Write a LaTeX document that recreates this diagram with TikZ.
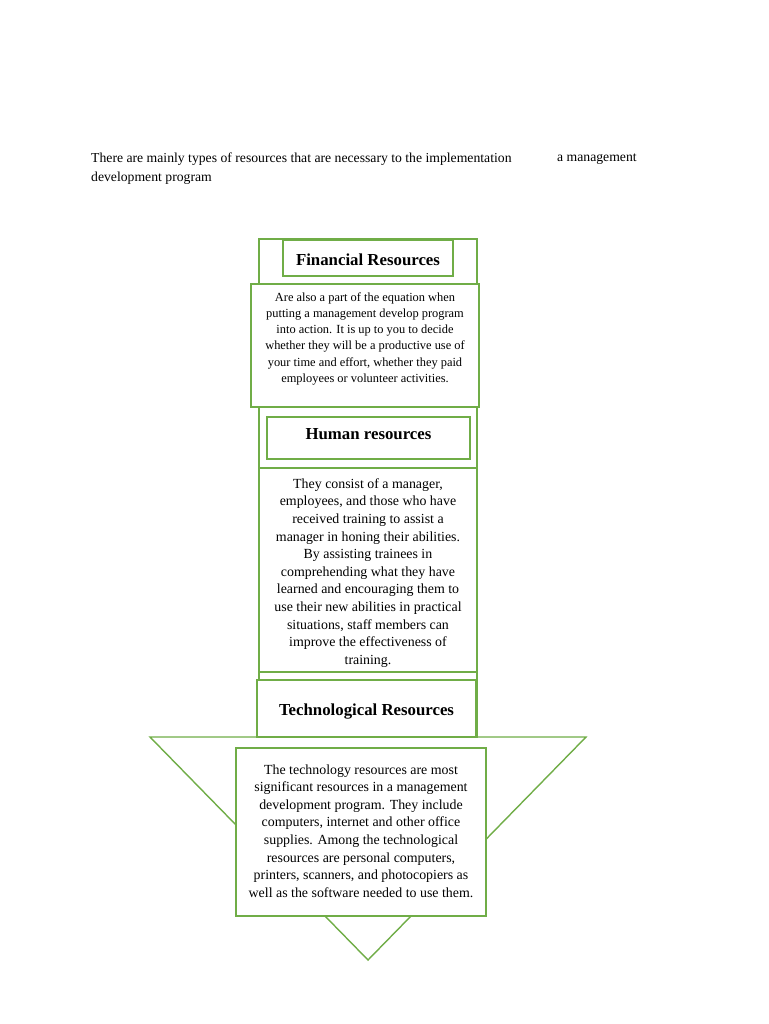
\documentclass[tikz,border=0pt]{standalone}
\usepackage{fontspec}
\setmainfont{Liberation Serif}
\definecolor{grn}{RGB}{112,173,71}
\begin{document}
\begin{tikzpicture}[x=1pt,y=-1pt,
  box/.style={draw=grn,line width=1.4pt,fill=white,inner sep=0pt,align=center},
  ttl/.style={font=\fontsize{16.8}{20}\selectfont\bfseries},
  body/.style={font=\fontsize{13.9}{17.6}\selectfont},
  small/.style={font=\fontsize{12.4}{16.2}\selectfont},
  plain/.style={inner sep=0pt,anchor=west,font=\fontsize{13.7}{19}\selectfont}]
\useasboundingbox (0,0) rectangle (768,1024);
% intro text
\node[plain] (l1) at (91,159) {There are mainly types of resources that are necessary to the implementation};
\node[plain] (l1b) at (557,159) {a management};
\node[plain] (l2) at (91,178) {development program};
% arrow head triangle
\coordinate (tl) at (150,737);
\coordinate (tr) at (586,737);
\coordinate (tip) at (368,960);
\draw[grn,line width=1.4pt,fill=white,line join=miter] (tl) -- (tr) -- (tip) -- cycle;
% column
\draw[grn,line width=1.4pt] (259,239) rectangle (477,737);
\draw[grn,line width=1.4pt] (259,672) -- (477,672);
\node[box,minimum width=219,minimum height=57] (techtitle) at (366.5,708.5) {};
\node[ttl] at ([yshift=-3]techtitle) {Technological Resources};
% financial
\node[box,minimum width=170,minimum height=36] (fintitle) at (368,258) {};
\node[ttl] at ([yshift=-2]fintitle) {Financial Resources};
\node[box,minimum width=228,minimum height=123] (findesc) at (365,345.5) {};
\node[small,align=center,anchor=north] (fintext) at (365,289) {Are also a part of the equation when\\putting a management develop program\\into action. It is up to you to decide\\whether they will be a productive use of\\your time and effort, whether they paid\\employees or volunteer activities.};
% human
\node[box,minimum width=203,minimum height=42] (humtitle) at (368.5,438) {};
\node[ttl] at ([yshift=4]humtitle) {Human resources};
\node[box,minimum width=218,minimum height=204] (humdesc) at (368,570) {};
\node[body,align=center,anchor=north] (humtext) at (368,475) {They consist of a manager,\\employees, and those who have\\received training to assist a\\manager in honing their abilities.\\By assisting trainees in\\comprehending what they have\\learned and encouraging them to\\use their new abilities in practical\\situations, staff members can\\improve the effectiveness of\\training.};
% technological description
\node[box,minimum width=250,minimum height=168] (techdesc) at (361,832) {};
\node[body,align=center,anchor=north] (techtext) at (361,761) {The technology resources are most\\significant resources in a management\\development program. They include\\computers, internet and other office\\supplies. Among the technological\\resources are personal computers,\\printers, scanners, and photocopiers as\\well as the software needed to use them.};
\end{tikzpicture}
\end{document}
